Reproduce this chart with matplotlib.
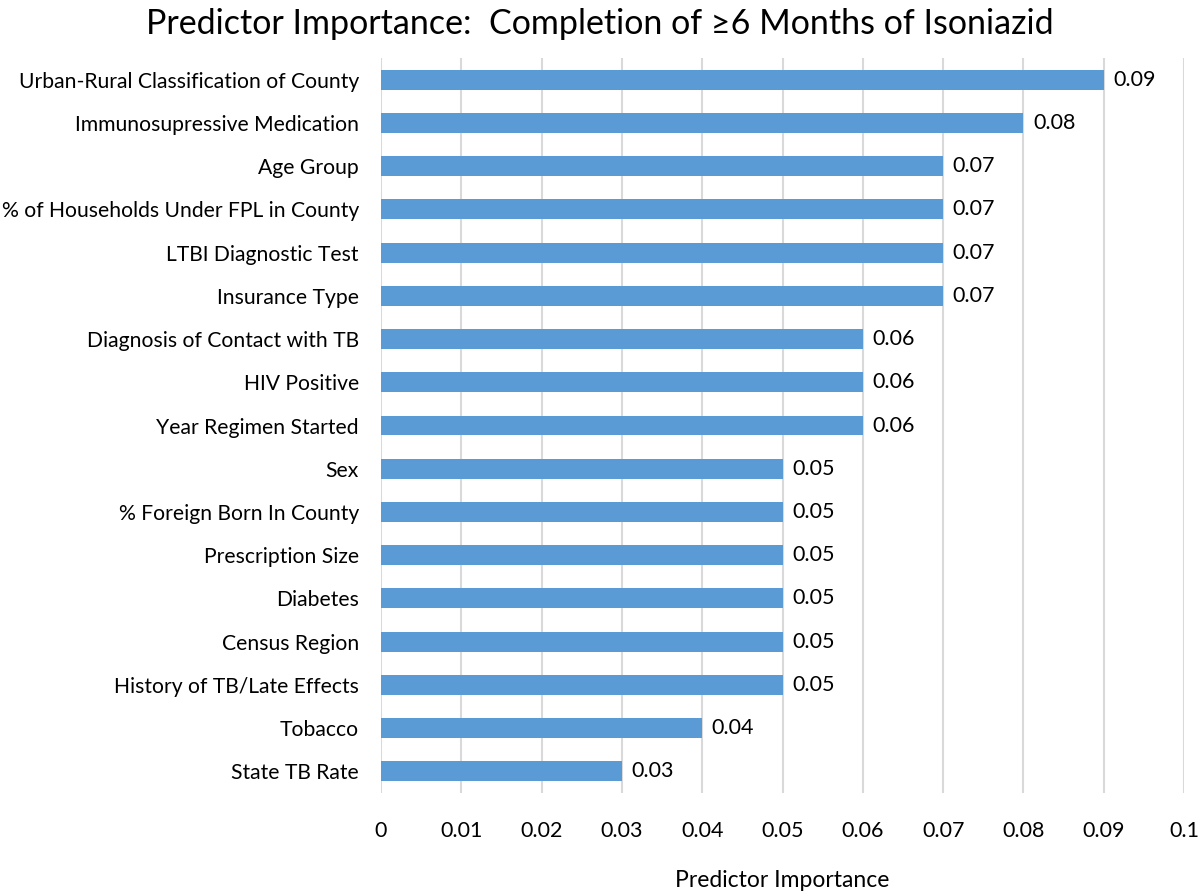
import matplotlib
matplotlib.use("Agg")
import matplotlib.pyplot as plt
import numpy as np

labels = ["Urban-Rural Classification of County", "Immunosupressive Medication", "Age Group",
          "% of Households Under FPL in County", "LTBI Diagnostic Test", "Insurance Type",
          "Diagnosis of Contact with TB", "HIV Positive", "Year Regimen Started", "Sex",
          "% Foreign Born In County", "Prescription Size", "Diabetes", "Census Region",
          "History of TB/Late Effects", "Tobacco", "State TB Rate"]
values = [0.09, 0.08, 0.07, 0.07, 0.07, 0.07, 0.06, 0.06, 0.06, 0.05,
          0.05, 0.05, 0.05, 0.05, 0.05, 0.04, 0.03]
xticks = [0, 0.01, 0.02, 0.03, 0.04, 0.05, 0.06, 0.07, 0.08, 0.09, 0.1]
xticklabels = ["0", "0.01", "0.02", "0.03", "0.04", "0.05", "0.06", "0.07", "0.08", "0.09", "0.1"]

plt.rcParams["font.family"] = ["Lato", "DejaVu Sans"]
fig = plt.figure(figsize=(12, 8.93), dpi=100)
ax = fig.add_axes([0.3175, 0.112, 0.6692, 0.823])

y = np.arange(len(labels))
ax.barh(y, values, height=0.46, color="#5B9BD5", zorder=3)
for yi, v in zip(y, values):
    ax.text(v + 0.0012, yi, "%.2f" % v, va="center", ha="left", fontsize=15.5, color="black")

ax.set_ylim(len(labels) - 0.5, -0.5)
ax.set_xlim(0, 0.1)
ax.set_yticks(y)
ax.set_yticklabels(labels, fontsize=15.2)
ax.set_xticks(xticks)
ax.set_xticklabels(xticklabels, fontsize=15.5)
ax.tick_params(length=0, pad=16, axis="y")
ax.tick_params(length=0, pad=20, axis="x")
ax.xaxis.grid(True, color="#d9d9d9", lw=1.5, zorder=0)
ax.set_axisbelow(True)
for s in ax.spines.values():
    s.set_visible(False)
ax.set_xlabel("Predictor Importance", fontsize=16.5, labelpad=21)
fig.text(0.5, 0.973, "Predictor Importance:  Completion of \u22656 Months of Isoniazid",
         ha="center", va="center", fontsize=24.5)
fig.savefig("out.png", dpi=100)
